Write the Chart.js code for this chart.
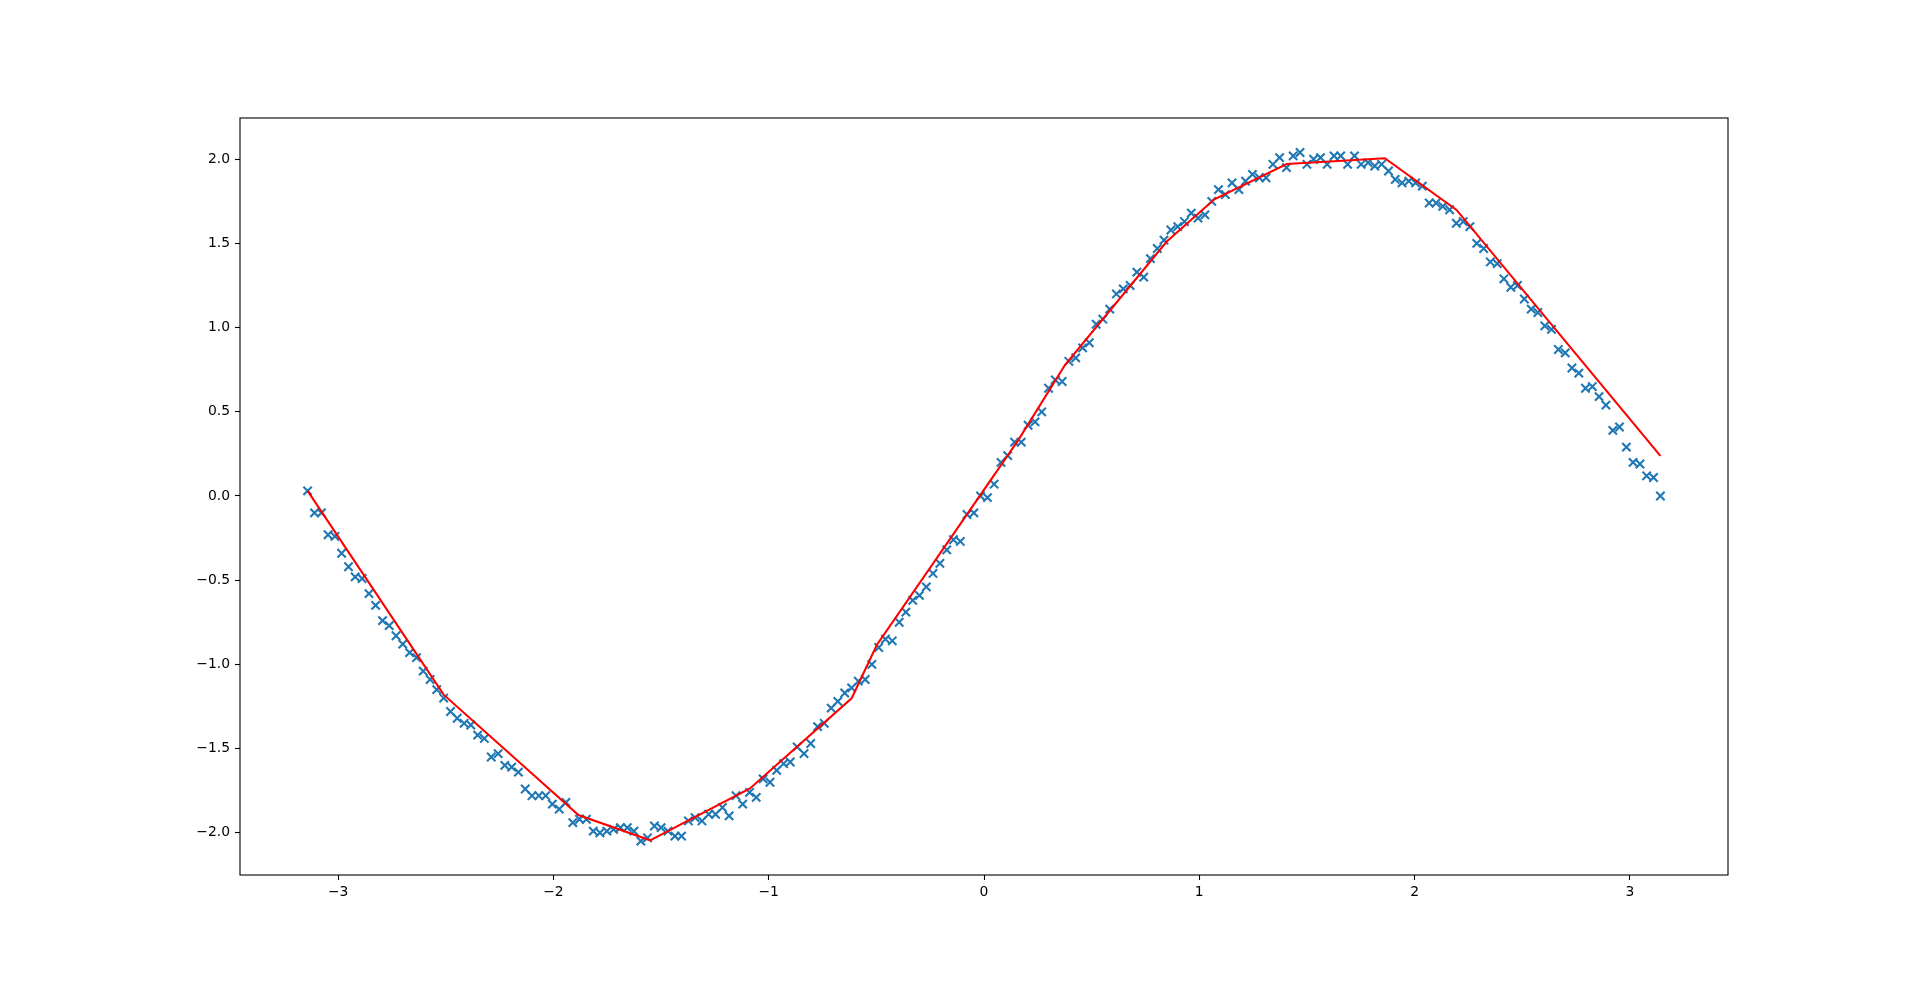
<!DOCTYPE html>
<html>
<head>
<meta charset="utf-8">
<title>Scatter with piecewise fit</title>
<script src="https://cdn.jsdelivr.net/npm/chart.js@4.4.1/dist/chart.umd.min.js"></script>
<style>
  html, body { margin: 0; padding: 0; background: #fff; }
  #chart { display: block; }
</style>
</head>
<body>
<canvas id="chart" width="1920" height="983"></canvas>
<script>
// sample positions on the x axis
const sampleX = [
  -3.142, -3.110, -3.078, -3.047, -3.015, -2.984, -2.952, -2.921, -2.889, -2.857,
  -2.826, -2.794, -2.763, -2.731, -2.700, -2.668, -2.636, -2.605, -2.573, -2.542,
  -2.510, -2.478, -2.447, -2.415, -2.384, -2.352, -2.321, -2.289, -2.257, -2.226,
  -2.194, -2.163, -2.131, -2.100, -2.068, -2.036, -2.005, -1.973, -1.942, -1.910,
  -1.879, -1.847, -1.815, -1.784, -1.752, -1.721, -1.689, -1.657, -1.626, -1.594,
  -1.563, -1.531, -1.500, -1.468, -1.436, -1.405, -1.373, -1.342, -1.310, -1.279,
  -1.247, -1.215, -1.184, -1.152, -1.121, -1.089, -1.058, -1.026, -0.994, -0.963,
  -0.931, -0.900, -0.868, -0.836, -0.805, -0.773, -0.742, -0.710, -0.679, -0.647,
  -0.615, -0.584, -0.552, -0.521, -0.489, -0.458, -0.426, -0.394, -0.363, -0.331,
  -0.300, -0.268, -0.237, -0.205, -0.173, -0.142, -0.110, -0.079, -0.047, -0.016,
  0.016, 0.047, 0.079, 0.110, 0.142, 0.173, 0.205, 0.237, 0.268, 0.300,
  0.331, 0.363, 0.394, 0.426, 0.458, 0.489, 0.521, 0.552, 0.584, 0.615,
  0.647, 0.679, 0.710, 0.742, 0.773, 0.805, 0.836, 0.868, 0.900, 0.931,
  0.963, 0.994, 1.026, 1.058, 1.089, 1.121, 1.152, 1.184, 1.215, 1.247,
  1.279, 1.310, 1.342, 1.373, 1.405, 1.436, 1.468, 1.500, 1.531, 1.563,
  1.594, 1.626, 1.657, 1.689, 1.721, 1.752, 1.784, 1.815, 1.847, 1.879,
  1.910, 1.942, 1.973, 2.005, 2.036, 2.068, 2.100, 2.131, 2.163, 2.194,
  2.226, 2.257, 2.289, 2.321, 2.352, 2.384, 2.415, 2.447, 2.478, 2.510,
  2.542, 2.573, 2.605, 2.636, 2.668, 2.700, 2.731, 2.763, 2.794, 2.826,
  2.857, 2.889, 2.921, 2.952, 2.984, 3.015, 3.047, 3.078, 3.110, 3.142
];

// noisy samples (the blue crosses)
const sampleY = [
  0.03, -0.10, -0.10, -0.23, -0.24, -0.34, -0.42, -0.48, -0.49, -0.58,
  -0.65, -0.74, -0.77, -0.83, -0.88, -0.93, -0.96, -1.04, -1.09, -1.15,
  -1.20, -1.28, -1.32, -1.35, -1.36, -1.42, -1.44, -1.55, -1.53, -1.60,
  -1.61, -1.64, -1.74, -1.78, -1.78, -1.78, -1.83, -1.86, -1.82, -1.94,
  -1.92, -1.92, -1.99, -2.00, -1.99, -1.98, -1.97, -1.97, -1.99, -2.05,
  -2.03, -1.96, -1.97, -1.99, -2.02, -2.02, -1.93, -1.91, -1.93, -1.89,
  -1.89, -1.85, -1.90, -1.78, -1.83, -1.76, -1.79, -1.68, -1.70, -1.63,
  -1.59, -1.58, -1.49, -1.53, -1.47, -1.37, -1.35, -1.26, -1.22, -1.17,
  -1.14, -1.10, -1.09, -1.00, -0.90, -0.85, -0.86, -0.75, -0.69, -0.62,
  -0.59, -0.54, -0.46, -0.40, -0.32, -0.26, -0.27, -0.11, -0.10, 0.00,
  -0.01, 0.07, 0.20, 0.24, 0.32, 0.32, 0.42, 0.44, 0.50, 0.64,
  0.69, 0.68, 0.80, 0.82, 0.88, 0.91, 1.02, 1.05, 1.11, 1.20,
  1.23, 1.25, 1.33, 1.30, 1.41, 1.47, 1.52, 1.58, 1.60, 1.63,
  1.68, 1.65, 1.67, 1.75, 1.82, 1.79, 1.86, 1.82, 1.87, 1.91,
  1.89, 1.89, 1.97, 2.01, 1.95, 2.02, 2.04, 1.97, 2.00, 2.01,
  1.97, 2.02, 2.02, 1.97, 2.02, 1.97, 1.98, 1.96, 1.97, 1.93,
  1.88, 1.86, 1.87, 1.86, 1.84, 1.74, 1.74, 1.72, 1.70, 1.62,
  1.63, 1.60, 1.50, 1.47, 1.39, 1.38, 1.29, 1.24, 1.25, 1.17,
  1.11, 1.09, 1.01, 0.99, 0.87, 0.85, 0.76, 0.73, 0.64, 0.65,
  0.59, 0.54, 0.39, 0.41, 0.29, 0.20, 0.19, 0.12, 0.11, 0.00
];

// corners of the red fitted line
const fitX = [-3.142, -2.510, -1.884, -1.551, -1.087, -0.615, -0.498, 0.160, 0.376, 0.849, 1.070, 1.406, 1.862, 2.195, 3.142];
const fitY = [0.03, -1.18, -1.895, -2.045, -1.737, -1.202, -0.885, 0.333, 0.778, 1.511, 1.762, 1.972, 2.006, 1.699, 0.238];

const xTicks = [-3, -2, -1, 0, 1, 2, 3];
const yTicks = [-2.0, -1.5, -1.0, -0.5, 0.0, 0.5, 1.0, 1.5, 2.0];

document.addEventListener('DOMContentLoaded', () => {
  const font = { family: '"DejaVu Sans", sans-serif', size: 13.9 };
  const minus = s => s.replace('-', '\u2212');

  // matplotlib style box around the plot area
  const frame = {
    id: 'frame',
    afterDraw(chart) {
      const { ctx, chartArea: a } = chart;
      ctx.save();
      ctx.strokeStyle = '#000';
      ctx.lineWidth = 1.1;
      ctx.strokeRect(a.left, a.top, a.right - a.left, a.bottom - a.top);
      ctx.restore();
    }
  };

  const axisGrid = { display: true, drawOnChartArea: false, drawTicks: true, tickLength: 5, tickWidth: 1.1, tickColor: '#000' };

  new Chart(document.getElementById('chart'), {
    type: 'scatter',
    data: {
      datasets: [
        {
          type: 'line',
          label: 'fit',
          data: fitX.map((x, i) => ({ x, y: fitY[i] })),
          borderColor: '#ff0000',
          borderWidth: 2.1,
          pointRadius: 0,
          showLine: true,
          fill: false,
          tension: 0,
          order: 0
        },
        {
          label: 'samples',
          data: sampleX.map((x, i) => ({ x, y: sampleY[i] })),
          pointStyle: 'crossRot',
          pointRadius: 5.9,
          pointBorderWidth: 2.1,
          borderColor: '#1f77b4',
          backgroundColor: '#1f77b4',
          order: 1
        }
      ]
    },
    options: {
      responsive: false,
      devicePixelRatio: 1,
      animation: false,
      layout: { padding: { left: 0, right: 192, top: 118, bottom: 0 } },
      plugins: { legend: { display: false }, tooltip: { enabled: false } },
      scales: {
        x: {
          type: 'linear',
          min: -3.456,
          max: 3.456,
          grid: axisGrid,
          border: { display: false },
          afterFit: s => { s.height = 108; },
          afterBuildTicks: s => { s.ticks = xTicks.map(v => ({ value: v })); },
          ticks: {
            autoSkip: false, maxRotation: 0, padding: 4, color: '#000', font,
            callback: v => minus(String(v))
          }
        },
        y: {
          type: 'linear',
          min: -2.251,
          max: 2.245,
          grid: axisGrid,
          border: { display: false },
          afterFit: s => { s.width = 240; },
          afterBuildTicks: s => { s.ticks = yTicks.map(v => ({ value: v })); },
          ticks: {
            autoSkip: false, padding: 5, color: '#000', font,
            callback: v => minus(Number(v).toFixed(1))
          }
        }
      }
    },
    plugins: [frame]
  });
});
</script>
</body>
</html>
